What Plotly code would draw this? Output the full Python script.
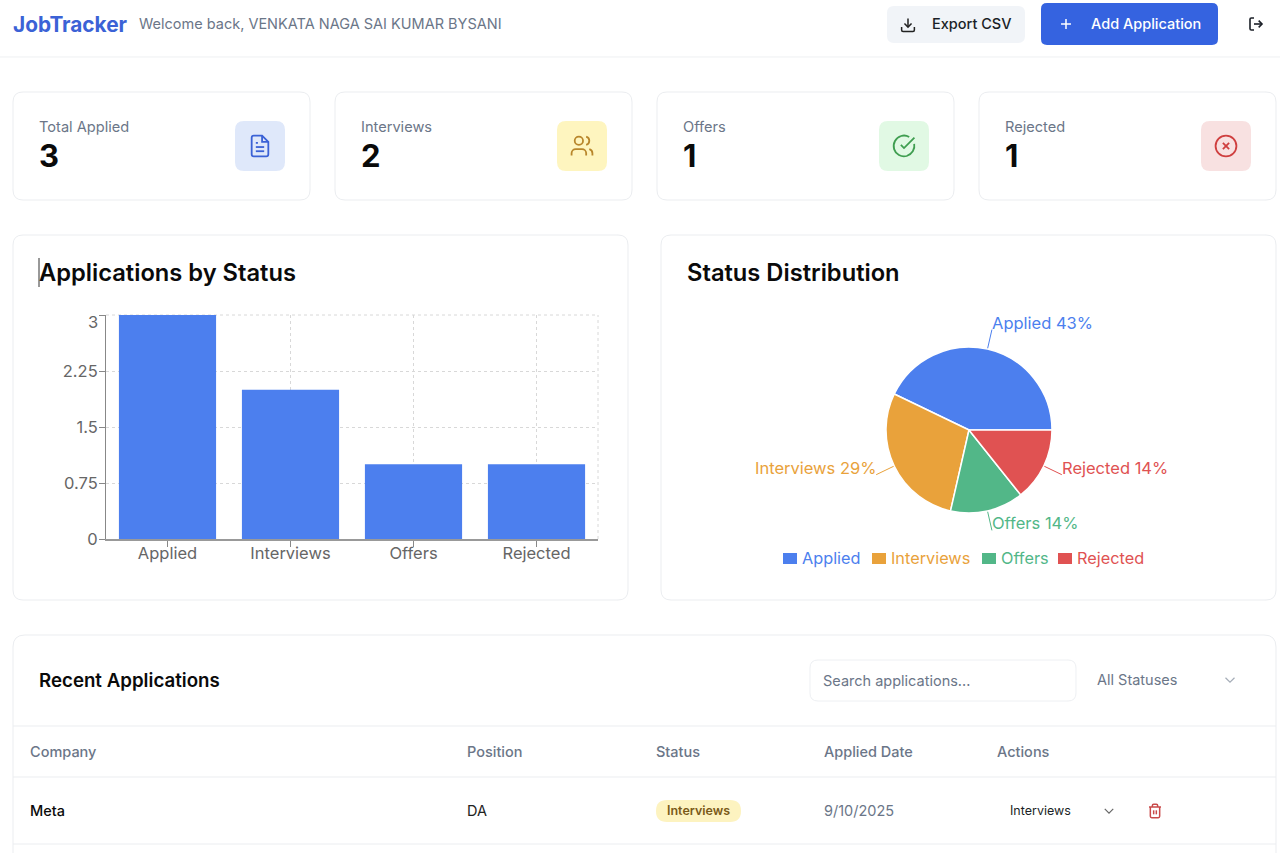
import re
import numpy as np
import plotly.graph_objects as go

W, H = 1280, 853

statuses = ["Applied", "Interviews", "Offers", "Rejected"]
counts = [3, 2, 1, 1]
y_ticks = [0, 0.75, 1.5, 2.25, 3]
y_tick_labels = ["0", "0.75", "1.5", "2.25", "3"]
pie_colors = ["#4C7FEE", "#E9A23B", "#52B788", "#E05252"]

card_titles = ["Total Applied", "Interviews", "Offers", "Rejected"]
card_values = ["3", "2", "1", "1"]
table_headers = ["Company", "Position", "Status", "Applied Date", "Actions"]
table_row = ["Meta", "DA", "Interviews", "9/10/2025", "Interviews"]

FONT = "Inter"
GRAY = "#6B7688"
BORDER = "#EBEDF0"


def px(x):
    return x / W


def py(y):
    return 1 - y / H


def to_paper(d):
    # svg path in page pixels -> paper coords
    out = []
    for cmd, args in re.findall(r"([MLQCZ])([^MLQCZ]*)", d):
        nums = [float(n) for n in args.split()]
        conv = [f"{px(n) if i % 2 == 0 else py(n):.5f}" for i, n in enumerate(nums)]
        out.append(cmd + " ".join(conv))
    return " ".join(out)


shapes = []
annotations = []


def path(d, fill=None, line=None, width=1):
    shapes.append(dict(type="path", xref="paper", yref="paper", path=to_paper(d), layer="below",
                       fillcolor=fill or "rgba(0,0,0,0)",
                       line=dict(color=line or "rgba(0,0,0,0)", width=width if line else 0)))


def rrect(x0, y0, x1, y1, r, fill=None, line=None, width=1):
    d = (f"M{x0 + r} {y0} L{x1 - r} {y0} Q{x1} {y0} {x1} {y0 + r} L{x1} {y1 - r} Q{x1} {y1} {x1 - r} {y1} "
         f"L{x0 + r} {y1} Q{x0} {y1} {x0} {y1 - r} L{x0} {y0 + r} Q{x0} {y0} {x0 + r} {y0} Z")
    path(d, fill, line, width)


def hline(x0, x1, y, color=BORDER, width=1):
    path(f"M{x0} {y} L{x1} {y}", line=color, width=width)


def text(x, y, s, size, color, weight=400, anchor="left"):
    annotations.append(dict(xref="paper", yref="paper", x=px(x), y=py(y), text=s, showarrow=False,
                            xanchor=anchor, yanchor="middle", borderpad=0, borderwidth=0,
                            font=dict(family=FONT, size=size, color=color, weight=weight)))


def circle(cx, cy, r):
    k = 0.5523 * r
    return (f"M{cx + r} {cy} C{cx + r} {cy + k} {cx + k} {cy + r} {cx} {cy + r} "
            f"C{cx - k} {cy + r} {cx - r} {cy + k} {cx - r} {cy} "
            f"C{cx - r} {cy - k} {cx - k} {cy - r} {cx} {cy - r} "
            f"C{cx + k} {cy - r} {cx + r} {cy - k} {cx + r} {cy}")


ICONS = {
    "file": ["M14 2 L6 2 Q4 2 4 4 L4 20 Q4 22 6 22 L18 22 Q20 22 20 20 L20 8 Z", "M14 2 L14 8 L20 8",
             "M16 13 L8 13", "M16 17 L8 17", "M10 9 L8 9"],
    "users": ["M16 21 L16 19 C16 16.8 14.2 15 12 15 L6 15 C3.8 15 2 16.8 2 19 L2 21", circle(9, 7, 4),
              "M16 3.1 C17.8 3.6 19 5.2 19 7 C19 8.8 17.8 10.4 16 10.9",
              "M22 21 L22 19 C22 17.2 20.8 15.6 19 15.1"],
    "check": ["M21.8 10 C22.8 15 19.6 20 14.6 21.6 C9.3 23 4 20 2.5 15 C1 9.5 4 4 9.3 2.4 C11.8 1.6 14.5 1.9 17 3.3",
              "M9 11 L12 14 L22 4"],
    "x": [circle(12, 12, 10), "M15 9 L9 15", "M9 9 L15 15"],
    "download": ["M21 15 L21 19 Q21 21 19 21 L5 21 Q3 21 3 19 L3 15", "M7 10 L12 15 L17 10", "M12 15 L12 3"],
    "plus": ["M5 12 L19 12", "M12 5 L12 19"],
    "logout": ["M9 21 L5 21 Q3 21 3 19 L3 5 Q3 3 5 3 L9 3", "M16 17 L21 12 L16 7", "M21 12 L9 12"],
    "chevron": ["M6 9 L12 15 L18 9"],
    "trash": ["M3 6 L21 6", "M19 6 L19 20 Q19 22 17 22 L7 22 Q5 22 5 20 L5 6",
              "M8 6 L8 4 Q8 2 10 2 L14 2 Q16 2 16 4 L16 6", "M10 11 L10 17", "M14 11 L14 17"],
}


def icon(name, cx, cy, size, color, width=1.8):
    s = size / 24

    def move(d):
        parts = []
        for cmd, args in re.findall(r"([MLQCZ])([^MLQCZ]*)", d):
            nums = [float(n) for n in args.split()]
            moved = [(cx + (n - 12) * s) if i % 2 == 0 else (cy + (n - 12) * s) for i, n in enumerate(nums)]
            parts.append(cmd + " ".join(str(round(n, 2)) for n in moved))
        return " ".join(parts)

    for d in ICONS[name]:
        path(move(d), line=color, width=width)


# header
hline(0, W, 57, "#EEF0F2")
text(13, 25, "JobTracker", 20.8, "#3B62D6", 700)
text(139, 24, "Welcome back, VENKATA NAGA SAI KUMAR BYSANI", 14.5, GRAY)
rrect(887, 6, 1025, 43, 7, fill="#F1F4F8")
icon("download", 908, 25, 17, "#222222", 1.5)
text(932, 24, "Export CSV", 14.5, "#1B1F27", 500)
rrect(1041, 3, 1218, 45, 6, fill="#3563E0")
icon("plus", 1066, 24, 17, "#FFFFFF", 1.5)
text(1091, 24, "Add Application", 14.5, "#FFFFFF", 500)
icon("logout", 1256, 24, 16, "#1B1F27", 1.6)

# stat cards
card_x = [13, 335, 657, 979]
box_fill = ["#DFE8FA", "#FEF5BF", "#E1F9E4", "#F8E1E1"]
icon_color = ["#3B62D6", "#B8862B", "#3F9E50", "#CF3F3F"]
icon_name = ["file", "users", "check", "x"]
for i, x in enumerate(card_x):
    rrect(x, 92, x + 297, 200, 10, fill="#FFFFFF", line=BORDER)
    text(x + 25.5, 127, card_titles[i], 14.6, GRAY)
    text(x + 25.5, 156, card_values[i], 31, "#0A0A0A", 700)
    rrect(x + 222, 121, x + 272, 171, 9, fill=box_fill[i])
    icon(icon_name[i], x + 247, 146, 25, icon_color[i])

# chart cards
rrect(13, 235, 628, 600, 10, fill="#FFFFFF", line=BORDER)
rrect(661, 235, 1276, 600, 10, fill="#FFFFFF", line=BORDER)
path("M39 258 L39 287", line="#333333", width=1)
text(39, 272, "Applications by Status", 23.7, "#0A0A0A", 600)
text(687, 272, "Status Distribution", 23.7, "#0A0A0A", 600)

# table card, runs off the bottom of the page
path(f"M13 {H} L13 647 Q13 635 25 635 L1264 635 Q1276 635 1276 647 L1276 {H}", fill="#FFFFFF", line=BORDER)
text(39, 680, "Recent Applications", 18.7, "#0A0A0A", 600)
rrect(810, 660, 1076, 701, 8, fill="#FFFFFF", line="#EEF0F3")
text(823, 680, "Search applications...", 14.5, GRAY)
text(1097, 679.5, "All Statuses", 14.5, GRAY)
icon("chevron", 1230, 680, 18, "#A5ADB8", 1.2)
hline(13, 1276, 726)
hline(13, 1276, 777)
hline(13, 1276, 844)
col_x = [30, 467, 656, 824, 997]
for x, h in zip(col_x, table_headers):
    text(x, 751, h, 14.5, GRAY, 500)
text(col_x[0], 810, table_row[0], 14.5, "#0A0A0A", 500)
text(col_x[1], 810, table_row[1], 14.5, "#222222")
rrect(656, 800, 741, 822, 11, fill="#FDF3C0")
text(667, 810, table_row[2], 12.5, "#7A5A18", 600)
text(col_x[3], 810, table_row[3], 14.5, GRAY)
text(1010, 810, table_row[4], 12.5, "#1B1F27")
icon("chevron", 1109, 811, 17, "#666666", 1.2)
icon("trash", 1155, 811, 16, "#C94A4A", 1.5)

# bar chart
fig = go.Figure()
fig.add_trace(go.Bar(x=statuses, y=counts, marker=dict(color=pie_colors[0], line=dict(width=0)),
                     xaxis="x", yaxis="y", showlegend=False, hoverinfo="x+y"))

# the top tick label sits below its tick in the original, so it is placed by hand
axis_labels = y_tick_labels[:-1] + [""]
text(98, 322, y_tick_labels[-1], 16.5, "#666666", 400, "right")

# pie chart, first slice starts at 3 o'clock and runs counterclockwise
pie_cx, pie_cy, pie_r = 969, 430, 83
vals = np.array(counts, dtype=float)
first_share = vals[0] / vals.sum()
fig.add_trace(go.Pie(labels=statuses, values=counts, sort=False, direction="counterclockwise",
                     rotation=90 - 360 * first_share,
                     marker=dict(colors=pie_colors, line=dict(color="#FFFFFF", width=1.5)),
                     textinfo="none", showlegend=False,
                     domain=dict(x=[px(pie_cx - pie_r), px(pie_cx + pie_r)],
                                 y=[py(pie_cy + pie_r), py(pie_cy - pie_r)])))

ends = np.cumsum(vals) / vals.sum() * 2 * np.pi
mids = ends - vals / vals.sum() * np.pi
for name, v, a, c in zip(statuses, vals, mids, pie_colors):
    x0, y0 = pie_cx + pie_r * np.cos(a), pie_cy - pie_r * np.sin(a)
    x1, y1 = pie_cx + (pie_r + 20) * np.cos(a), pie_cy - (pie_r + 20) * np.sin(a)
    path(f"M{x0:.2f} {y0:.2f} L{x1:.2f} {y1:.2f}", line=c, width=1)
    pct = round(100 * v / vals.sum())
    text(x1, y1 - 7, f"{name} {pct}%", 16.5, c, 400, "left" if np.cos(a) > 0 else "right")

# legend row
swatch_x = [783, 872, 982, 1058]
for x, name, c in zip(swatch_x, statuses, pie_colors):
    rrect(x, 553, x + 14, 564, 0.1, fill=c)
    text(x + 19, 558, name, 16.3, c)

fig.update_layout(
    width=W, height=H, autosize=False,
    margin=dict(l=0, r=0, t=0, b=0),
    paper_bgcolor="#FFFFFF", plot_bgcolor="rgba(0,0,0,0)",
    font=dict(family=FONT, color="#666666"),
    bargap=0.21,
    shapes=shapes,
    annotations=annotations,
    xaxis=dict(domain=[px(106), px(598)], range=[-0.5, 3.5], type="category", categoryorder="array",
               categoryarray=statuses, showline=True, linecolor="#999999", linewidth=1.5, automargin=False,
               ticks="outside", ticklen=6, tickcolor="#888888", tickfont=dict(size=16.5, color="#666666"),
               ticklabelstandoff=-8,
               showgrid=True, gridcolor="#D8D8D8", griddash="3px,3px", gridwidth=1, fixedrange=True),
    yaxis=dict(domain=[py(539), py(315)], range=[0, 3], tickvals=y_ticks, ticktext=axis_labels,
               showline=True, linecolor="#888888", linewidth=1, ticklabelstandoff=-2, automargin=False,
               ticks="outside", ticklen=6, tickcolor="#888888", tickfont=dict(size=16.5, color="#666666"),
               showgrid=True, gridcolor="#D8D8D8", griddash="3px,3px", gridwidth=1, zeroline=False,
               fixedrange=True),
)
# top and right edges of the dashed grid
fig.add_shape(type="line", xref="x domain", yref="y domain", x0=1, x1=1, y0=0, y1=1, layer="below",
              line=dict(color="#D8D8D8", width=1, dash="3px,3px"))
fig.add_shape(type="line", xref="x domain", yref="y domain", x0=0, x1=1, y0=1, y1=1, layer="below",
              line=dict(color="#D8D8D8", width=1, dash="3px,3px"))

fig.write_html("out.html", post_script="document.body.style.margin='0';document.body.style.overflow='hidden';",
               config=dict(displayModeBar=False))
